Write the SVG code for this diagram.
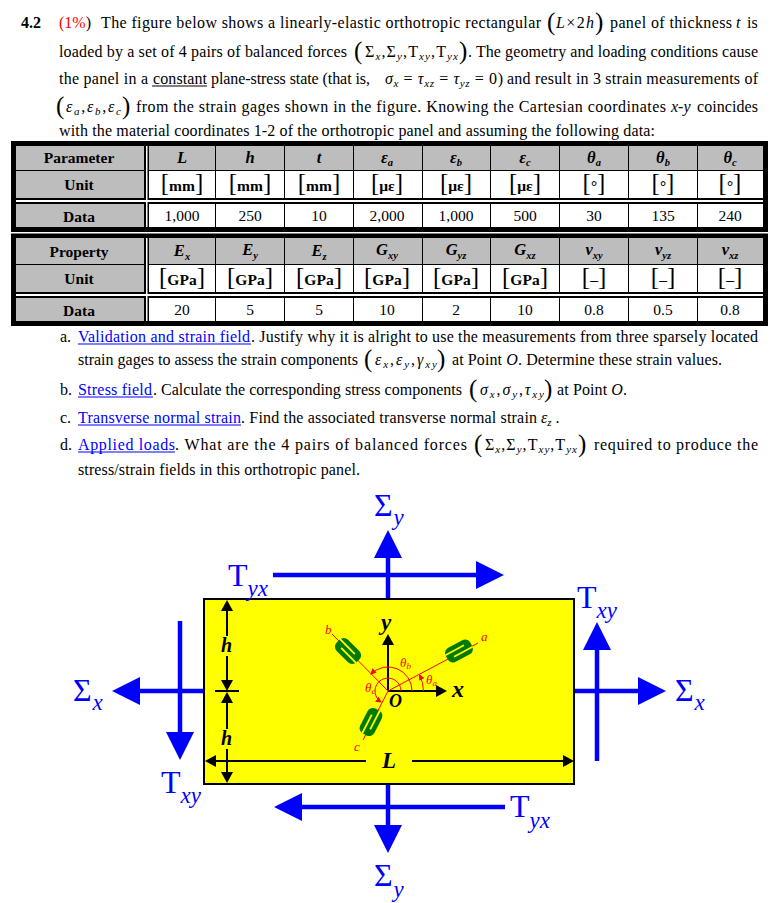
<svg xmlns="http://www.w3.org/2000/svg" width="779" height="903" viewBox="0 0 779 903">
<style>
text{font-family:"Liberation Serif","Times New Roman",serif;fill:#000}
.p{font-size:16px}
.b{font-weight:bold}
.i{font-style:italic}
.s{font-size:11px;font-style:italic}
.par{font-size:25px}
.lk{fill:#0000ff}
.ul{stroke:#0000ff;stroke-width:1}
.c{text-anchor:middle;font-size:15.5px}
.h{text-anchor:middle;font-size:15.5px;font-weight:bold}
.sy{text-anchor:middle;font-size:16.5px;font-weight:bold;font-style:italic}
.sb{font-size:10.5px;font-weight:bold;font-style:italic}
.br{font-size:25px;font-weight:normal}
.gray{fill:#bdbdbd}
.white{fill:#fff}
.g{stroke:#000;stroke-width:1}
.load{stroke:#0000ff;stroke-width:4.5;fill:none}
.dim{stroke:#000;stroke-width:2;fill:none}
.red{stroke:#ff0000;stroke-width:1;fill:none}
.big{font-size:32px;fill:#0000ff}
.bs{font-size:23px;fill:#0000ff;font-style:italic}
.rt{font-size:13px;fill:#ff0000;font-style:italic}
.rs{font-size:9px;fill:#ff0000;font-style:italic}
</style>
<defs>
<marker id="ah" markerUnits="userSpaceOnUse" markerWidth="28" markerHeight="28" viewBox="0 0 28 28" refX="0" refY="14" orient="auto"><path d="M0 0L28 14L0 28Z" fill="#0000ff"/></marker>
<marker id="kh" markerUnits="userSpaceOnUse" markerWidth="11" markerHeight="12" viewBox="0 0 11 12" refX="0" refY="6" orient="auto"><path d="M0 0L11 6L0 12Z" fill="#000"/></marker>
<marker id="rh" markerUnits="userSpaceOnUse" markerWidth="6" markerHeight="6" viewBox="0 0 6 6" refX="5" refY="3" orient="auto"><path d="M0 0L6 3L0 6Z" fill="#ff0000"/></marker>
<g id="gage"><rect x="-14" y="-8" width="28" height="16" rx="6" fill="#007a00"/><path d="M-14 -2.700H7M14 2.700H-7" stroke="#ffff00" stroke-width="1.800" fill="none"/></g>
</defs>

<g id="statement">
<text x="21" y="28" class="p b">4.2</text>
<text x="59" y="28" class="p"><tspan fill="#ff0000">(1%</tspan>)</text>
<text x="101" y="28" class="p" textLength="440">The figure below shows a linearly-elastic orthotropic rectangular</text>
<text x="547" y="30" class="par">(</text>
<text x="556" y="28" class="p" textLength="38"><tspan class="i">L</tspan>×2<tspan class="i">h</tspan></text>
<text x="595" y="30" class="par">)</text>
<text x="610" y="28" class="p" textLength="122">panel of thickness</text>
<text x="736" y="28" class="p i">t</text>
<text x="747" y="28" class="p">is</text>

<text x="59" y="57" class="p" textLength="288">loaded by a set of 4 pairs of balanced forces</text>
<text x="354" y="59" class="par">(</text>
<text x="365" y="57" class="p" textLength="93">Σ<tspan class="s" dy="3">x</tspan><tspan dy="-3">,Σ</tspan><tspan class="s" dy="3">y</tspan><tspan dy="-3">,T</tspan><tspan class="s" dy="3">xy</tspan><tspan dy="-3">,T</tspan><tspan class="s" dy="3">yx</tspan></text>
<text x="459" y="59" class="par">)</text>
<text x="468" y="57" class="p" textLength="290">. The geometry and loading conditions cause</text>

<text x="59" y="84" class="p" textLength="89">the panel in a</text>
<text x="153" y="84" class="p" textLength="54">constant</text>
<line x1="152" y1="86" x2="207" y2="86" stroke="#000"/>
<text x="211" y="84" class="p" textLength="159">plane-stress state (that is,</text>
<text x="385" y="84" class="p" textLength="118"><tspan class="i">σ</tspan><tspan class="s" dy="3">x</tspan><tspan dy="-3"> = </tspan><tspan class="i">τ</tspan><tspan class="s" dy="3">xz</tspan><tspan dy="-3"> = </tspan><tspan class="i">τ</tspan><tspan class="s" dy="3">yz</tspan><tspan dy="-3"> = 0)</tspan></text>
<text x="507" y="84" class="p" textLength="251">and result in 3 strain measurements of</text>

<text x="56" y="114" class="par">(</text>
<text x="66" y="112" class="p" textLength="55"><tspan class="i">ε</tspan><tspan class="s" dy="3">a</tspan><tspan dy="-3">,</tspan><tspan class="i">ε</tspan><tspan class="s" dy="3">b</tspan><tspan dy="-3">,</tspan><tspan class="i">ε</tspan><tspan class="s" dy="3">c</tspan></text>
<text x="122" y="114" class="par">)</text>
<text x="136" y="112" class="p" textLength="530">from the strain gages shown in the figure. Knowing the Cartesian coordinates</text>
<text x="671" y="112" class="p i">x-y</text>
<text x="697" y="112" class="p" textLength="61">coincides</text>

<text x="59" y="136" class="p" textLength="596">with the material coordinates 1-2 of the orthotropic panel and assuming the following data:</text>
</g>

<g id="table-parameter">
<rect x="11" y="141" width="757" height="91" fill="#000"/>
<rect x="16" y="146" width="128" height="24" class="gray"/>
<rect x="16" y="171" width="128" height="27" class="gray"/>
<rect x="16" y="204" width="128" height="23" class="gray"/>
<rect x="146" y="146" width="1.5" height="81" class="white"/>
<rect x="16" y="200" width="747" height="2" class="white"/>
<rect x="149" y="146" width="614" height="24" class="gray"/>
<rect x="149" y="171" width="614" height="27" class="white"/>
<rect x="149" y="204" width="614" height="23" class="white"/>
<path class="g" d="M215.500 146V198M284.500 146V198M353.500 146V198M422.500 146V198M490.500 146V198M559.500 146V198M628.500 146V198M697.500 146V198M215.500 204V227M284.500 204V227M353.500 204V227M422.500 204V227M490.500 204V227M559.500 204V227M628.500 204V227M697.500 204V227"/>
<text x="79" y="163" class="h">Parameter</text>
<text x="79" y="190" class="h">Unit</text>
<text x="79" y="222" class="h">Data</text>
<text x="182" y="163" class="sy">L</text>
<text x="250" y="163" class="sy">h</text>
<text x="319" y="163" class="sy">t</text>
<text x="387" y="163" class="sy">ε<tspan class="sb" dy="3">a</tspan></text>
<text x="456" y="163" class="sy">ε<tspan class="sb" dy="3">b</tspan></text>
<text x="525" y="163" class="sy">ε<tspan class="sb" dy="3">c</tspan></text>
<text x="594" y="163" class="sy">θ<tspan class="sb" dy="3">a</tspan></text>
<text x="663" y="163" class="sy">θ<tspan class="sb" dy="3">b</tspan></text>
<text x="730" y="163" class="sy">θ<tspan class="sb" dy="3">c</tspan></text>
<text x="182" y="191" class="h"><tspan class="br">[</tspan>mm<tspan class="br">]</tspan></text>
<text x="250" y="191" class="h"><tspan class="br">[</tspan>mm<tspan class="br">]</tspan></text>
<text x="319" y="191" class="h"><tspan class="br">[</tspan>mm<tspan class="br">]</tspan></text>
<text x="387" y="191" class="h"><tspan class="br">[</tspan>με<tspan class="br">]</tspan></text>
<text x="456" y="191" class="h"><tspan class="br">[</tspan>με<tspan class="br">]</tspan></text>
<text x="525" y="191" class="h"><tspan class="br">[</tspan>με<tspan class="br">]</tspan></text>
<text x="594" y="191" class="h"><tspan class="br">[</tspan>°<tspan class="br">]</tspan></text>
<text x="663" y="191" class="h"><tspan class="br">[</tspan>°<tspan class="br">]</tspan></text>
<text x="730" y="191" class="h"><tspan class="br">[</tspan>°<tspan class="br">]</tspan></text>
<text x="182" y="221" class="c">1,000</text>
<text x="250" y="221" class="c">250</text>
<text x="319" y="221" class="c">10</text>
<text x="387" y="221" class="c">2,000</text>
<text x="456" y="221" class="c">1,000</text>
<text x="525" y="221" class="c">500</text>
<text x="594" y="221" class="c">30</text>
<text x="663" y="221" class="c">135</text>
<text x="730" y="221" class="c">240</text>
</g>

<g id="table-property">
<rect x="11" y="233.500" width="757" height="92.500" fill="#000"/>
<rect x="16" y="238" width="128" height="26" class="gray"/>
<rect x="16" y="265" width="128" height="27" class="gray"/>
<rect x="16" y="298" width="128" height="23" class="gray"/>
<rect x="146" y="238" width="1.500" height="83" class="white"/>
<rect x="16" y="294" width="747" height="2" class="white"/>
<rect x="149" y="238" width="614" height="26" class="gray"/>
<rect x="149" y="265" width="614" height="27" class="white"/>
<rect x="149" y="298" width="614" height="23" class="white"/>
<path class="g" d="M215.500 238V292M284.500 238V292M353.500 238V292M422.500 238V292M490.500 238V292M559.500 238V292M628.500 238V292M697.500 238V292M215.500 298V321M284.500 298V321M353.500 298V321M422.500 298V321M490.500 298V321M559.500 298V321M628.500 298V321M697.500 298V321"/>
<text x="79" y="257" class="h">Property</text>
<text x="79" y="284" class="h">Unit</text>
<text x="79" y="316" class="h">Data</text>
<text x="182" y="256" class="sy">E<tspan class="sb" dy="4">x</tspan></text>
<text x="250" y="255" class="sy">E<tspan class="sb" dy="4">y</tspan></text>
<text x="319" y="256" class="sy">E<tspan class="sb" dy="4">z</tspan></text>
<text x="387" y="255" class="sy">G<tspan class="sb" dy="4">xy</tspan></text>
<text x="456" y="255" class="sy">G<tspan class="sb" dy="4">yz</tspan></text>
<text x="525" y="255" class="sy">G<tspan class="sb" dy="4">xz</tspan></text>
<text x="594" y="255" class="sy">ν<tspan class="sb" dy="4">xy</tspan></text>
<text x="663" y="255" class="sy">ν<tspan class="sb" dy="4">yz</tspan></text>
<text x="730" y="255" class="sy">ν<tspan class="sb" dy="4">xz</tspan></text>
<text x="182" y="285" class="h"><tspan class="br">[</tspan>GPa<tspan class="br">]</tspan></text>
<text x="250" y="285" class="h"><tspan class="br">[</tspan>GPa<tspan class="br">]</tspan></text>
<text x="319" y="285" class="h"><tspan class="br">[</tspan>GPa<tspan class="br">]</tspan></text>
<text x="387" y="285" class="h"><tspan class="br">[</tspan>GPa<tspan class="br">]</tspan></text>
<text x="456" y="285" class="h"><tspan class="br">[</tspan>GPa<tspan class="br">]</tspan></text>
<text x="525" y="285" class="h"><tspan class="br">[</tspan>GPa<tspan class="br">]</tspan></text>
<text x="594" y="285" class="h"><tspan class="br">[</tspan>–<tspan class="br">]</tspan></text>
<text x="663" y="285" class="h"><tspan class="br">[</tspan>–<tspan class="br">]</tspan></text>
<text x="730" y="285" class="h"><tspan class="br">[</tspan>–<tspan class="br">]</tspan></text>
<text x="182" y="315" class="c">20</text>
<text x="250" y="315" class="c">5</text>
<text x="319" y="315" class="c">5</text>
<text x="387" y="315" class="c">10</text>
<text x="456" y="315" class="c">2</text>
<text x="525" y="315" class="c">10</text>
<text x="594" y="315" class="c">0.8</text>
<text x="663" y="315" class="c">0.5</text>
<text x="730" y="315" class="c">0.8</text>
</g>

<g id="questions">
<text x="60" y="342" class="p">a.</text>
<text x="78" y="342" class="p lk" textLength="172">Validation and strain field</text>
<line x1="78" y1="344" x2="251" y2="344" class="ul"/>
<text x="251" y="342" class="p" textLength="507">. Justify why it is alright to use the measurements from three sparsely located</text>
<text x="78" y="365" class="p" textLength="280">strain gages to assess the strain components</text>
<text x="364" y="367" class="par">(</text>
<text x="375" y="365" class="p" textLength="62"><tspan class="i">ε</tspan><tspan class="s" dy="3">x</tspan><tspan dy="-3">,</tspan><tspan class="i">ε</tspan><tspan class="s" dy="3">y</tspan><tspan dy="-3">,</tspan><tspan class="i">γ</tspan><tspan class="s" dy="3">xy</tspan></text>
<text x="437" y="367" class="par">)</text>
<text x="452" y="365" class="p" textLength="270">at Point <tspan class="i">O</tspan>. Determine these strain values.</text>

<text x="60" y="395" class="p">b.</text>
<text x="78" y="395" class="p lk" textLength="74">Stress field</text>
<line x1="78" y1="397" x2="153" y2="397" class="ul"/>
<text x="153" y="395" class="p" textLength="309">. Calculate the corresponding stress components</text>
<text x="469" y="397" class="par">(</text>
<text x="480" y="395" class="p" textLength="64"><tspan class="i">σ</tspan><tspan class="s" dy="3">x</tspan><tspan dy="-3">,</tspan><tspan class="i">σ</tspan><tspan class="s" dy="3">y</tspan><tspan dy="-3">,</tspan><tspan class="i">τ</tspan><tspan class="s" dy="3">xy</tspan></text>
<text x="544" y="397" class="par">)</text>
<text x="557" y="395" class="p" textLength="70">at Point <tspan class="i">O</tspan>.</text>

<text x="60" y="423" class="p">c.</text>
<text x="78" y="423" class="p lk" textLength="163">Transverse normal strain</text>
<line x1="78" y1="425" x2="241" y2="425" class="ul"/>
<text x="241" y="423" class="p" textLength="296">. Find the associated transverse normal strain</text>
<text x="541" y="423" class="p"><tspan class="i">ε</tspan><tspan class="s" dy="3">z</tspan><tspan dy="-3"> .</tspan></text>

<text x="60" y="450" class="p">d.</text>
<text x="78" y="450" class="p lk" textLength="97">Applied loads</text>
<line x1="78" y1="452" x2="175" y2="452" class="ul"/>
<text x="175" y="450" class="p" textLength="292">. What are the 4 pairs of balanced forces</text>
<text x="474" y="452" class="par">(</text>
<text x="485" y="450" class="p" textLength="92">Σ<tspan class="s" dy="3">x</tspan><tspan dy="-3">,Σ</tspan><tspan class="s" dy="3">y</tspan><tspan dy="-3">,T</tspan><tspan class="s" dy="3">xy</tspan><tspan dy="-3">,T</tspan><tspan class="s" dy="3">yx</tspan></text>
<text x="578" y="452" class="par">)</text>
<text x="594" y="450" class="p" textLength="164">required to produce the</text>
<text x="78" y="475" class="p" textLength="282">stress/strain fields in this orthotropic panel.</text>
</g>

<rect id="panel" x="204" y="599" width="370" height="185" fill="#ffff00" stroke="#000" stroke-width="2"/>

<g id="connectors">
<line x1="388" y1="598" x2="388" y2="558" class="load" marker-end="url(#ah)"/>
<line x1="388" y1="785" x2="388" y2="825" class="load" marker-end="url(#ah)"/>
<line x1="203" y1="691" x2="140" y2="691" class="load" marker-end="url(#ah)"/>
<line x1="575" y1="691" x2="638" y2="691" class="load" marker-end="url(#ah)"/>
<line x1="273" y1="575" x2="476" y2="575" class="load" marker-end="url(#ah)"/>
<line x1="505" y1="807" x2="302" y2="807" class="load" marker-end="url(#ah)"/>
<line x1="180" y1="621" x2="180" y2="732" class="load" marker-end="url(#ah)"/>
<line x1="597" y1="761" x2="597" y2="650" class="load" marker-end="url(#ah)"/>

<line x1="227" y1="636" x2="227" y2="611" class="dim" marker-end="url(#kh)"/>
<line x1="227" y1="656" x2="227" y2="680" class="dim" marker-end="url(#kh)"/>
<line x1="227" y1="729" x2="227" y2="703" class="dim" marker-end="url(#kh)"/>
<line x1="227" y1="749" x2="227" y2="772" class="dim" marker-end="url(#kh)"/>
<line x1="215" y1="691" x2="239" y2="691" class="dim"/>
<line x1="366" y1="761" x2="216" y2="761" class="dim" marker-end="url(#kh)"/>
<line x1="412" y1="761" x2="563" y2="761" class="dim" marker-end="url(#kh)"/>
<line x1="388" y1="691" x2="388" y2="645" class="dim" marker-end="url(#kh)"/>
<line x1="388" y1="691" x2="436" y2="691" class="dim" marker-end="url(#kh)"/>

<line x1="388" y1="691" x2="478" y2="643" class="red"/>
<line x1="388" y1="691" x2="332" y2="634" class="red"/>
<line x1="388" y1="691" x2="363" y2="740" class="red"/>
<path d="M423.500 691A35.500 35.500 0 0 0 419.500 675" class="red" marker-end="url(#rh)"/>
<path d="M412 691A24 24 0 0 0 371 674" class="red" marker-end="url(#rh)"/>
<path d="M401 691A13 13 0 1 0 381 702" class="red" marker-end="url(#rh)"/>
</g>

<g id="gage-a"><use href="#gage" transform="translate(459 651) rotate(-28)"/><text x="481" y="641" class="rt">a</text></g>
<g id="gage-b"><use href="#gage" transform="translate(348 651) rotate(45)"/><text x="325" y="634" class="rt">b</text></g>
<g id="gage-c"><use href="#gage" transform="translate(371 722) rotate(-63)"/><text x="354" y="751" class="rt">c</text></g>

<g id="labels">
<text x="426" y="684" class="rt">θ<tspan class="rs" dy="2">a</tspan></text>
<text x="400" y="667" class="rt">θ<tspan class="rs" dy="2">b</tspan></text>
<text x="365" y="692" class="rt">θ<tspan class="rs" dy="2">c</tspan></text>
<text x="381" y="630" font-size="23" font-style="italic" font-weight="bold">y</text>
<text x="452" y="697" font-size="24" font-style="italic" font-weight="bold">x</text>
<text x="389" y="707" font-size="18" font-style="italic" font-weight="bold">O</text>
<text x="221" y="652" font-size="20" font-style="italic" font-weight="bold">h</text>
<text x="221" y="745" font-size="20" font-style="italic" font-weight="bold">h</text>
<text x="382" y="768" font-size="23" font-style="italic" font-weight="bold">L</text>

<text x="374" y="516" class="big">Σ</text><text x="393.500" y="525" class="bs">y</text>
<text x="374" y="886" class="big">Σ</text><text x="393.500" y="897" class="bs">y</text>
<text x="73" y="701" class="big">Σ</text><text x="92.500" y="710" class="bs">x</text>
<text x="675" y="701" class="big">Σ</text><text x="694.500" y="710" class="bs">x</text>
<text x="228" y="586" class="big">T</text><text x="247.500" y="596" class="bs">yx</text>
<text x="510" y="817" class="big">T</text><text x="529.500" y="828" class="bs">yx</text>
<text x="161" y="793" class="big">T</text><text x="180.500" y="803" class="bs">xy</text>
<text x="577" y="608" class="big">T</text><text x="596.500" y="618" class="bs">xy</text>
</g>
</svg>
